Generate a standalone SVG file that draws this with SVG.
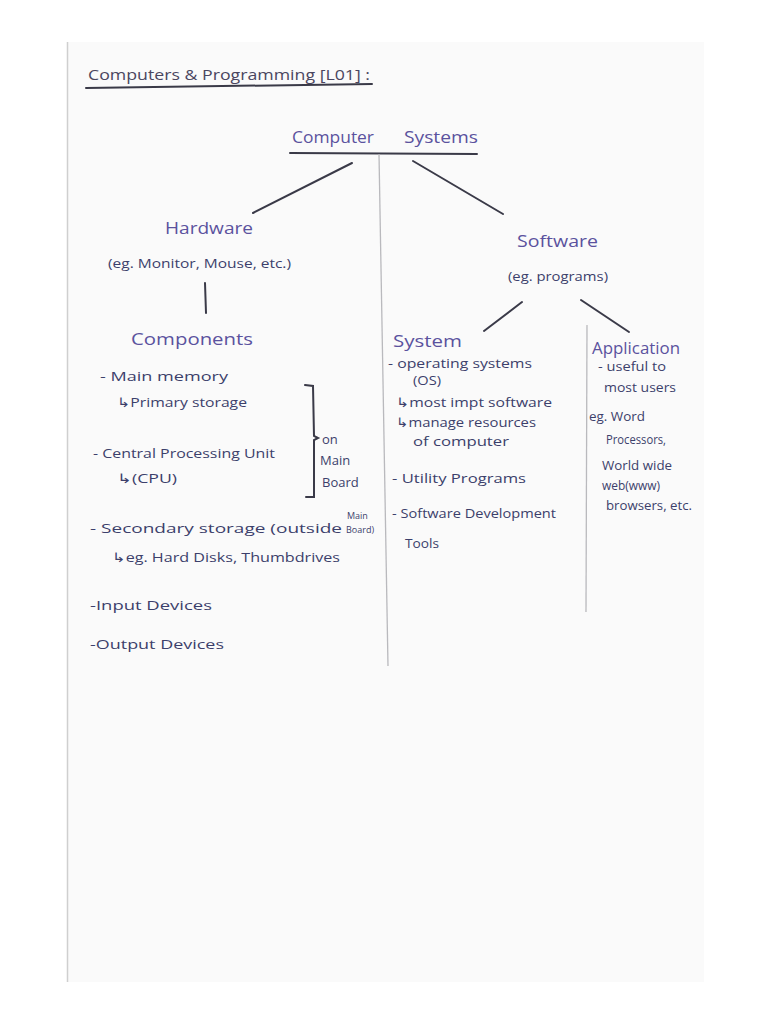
<svg xmlns="http://www.w3.org/2000/svg" width="768" height="1024" viewBox="0 0 768 1024">
<style>
  text { font-family: "Open Sans", "Liberation Sans", sans-serif; }
  .head { fill: #5b529e; font-size: 17px; }
  .body { fill: #3c3f6b; font-size: 13px; }
  .small { fill: #3c3f6b; font-size: 9px; }
  .ink { stroke: #3a3a48; stroke-width: 2; fill: none; stroke-linecap: round; }
  .rule { stroke: #b9b9bd; stroke-width: 1.3; fill: none; }
</style>
<rect x="0" y="0" width="768" height="1024" fill="#ffffff"/>
<rect x="67" y="42" width="637" height="940" fill="#fafafa"/>
<line x1="67.5" y1="42" x2="67.5" y2="982" stroke="#cfcfcf" stroke-width="1.5"/>

<g id="title">
  <text x="88" y="80" fill="#4a4660" font-size="15" textLength="282" lengthAdjust="spacingAndGlyphs">Computers &amp; Programming [L01] :</text>
  <path class="ink" d="M86 88 L372 84" stroke-width="1.8"/>
</g>

<g id="connectors">
  <path class="ink" d="M290 153 L477 154" stroke-width="2.5"/>
  <path class="rule" d="M379 154 L388 666"/>
  <path class="ink" d="M352 163 L253 213"/>
  <path class="ink" d="M413 161 L503 214"/>
  <path class="ink" d="M205 283 L206 313" stroke-width="2.2"/>
  <path class="ink" d="M522 302 L484 331"/>
  <path class="ink" d="M581 300 L629 332"/>
  <path class="rule" d="M587 325 L586 612"/>
</g>

<g id="root">
  <text class="head" x="292" y="143" font-size="18" textLength="82" lengthAdjust="spacingAndGlyphs">Computer</text>
  <text class="head" x="404" y="143" font-size="18" textLength="74" lengthAdjust="spacingAndGlyphs">Systems</text>
</g>

<g id="hardware">
  <text class="head" x="165" y="234" font-size="15" textLength="88" lengthAdjust="spacingAndGlyphs">Hardware</text>
  <text class="body" x="108" y="268" font-size="13.5" textLength="183" lengthAdjust="spacingAndGlyphs">(eg. Monitor, Mouse, etc.)</text>
</g>

<g id="components">
  <text class="head" x="131" y="345" textLength="122" lengthAdjust="spacingAndGlyphs">Components</text>
  <text class="body" x="100" y="381" textLength="128" lengthAdjust="spacingAndGlyphs">- Main memory</text>
  <text class="body" x="117" y="407" textLength="130" lengthAdjust="spacingAndGlyphs">↳Primary storage</text>
  <text class="body" x="93" y="458" textLength="182" lengthAdjust="spacingAndGlyphs">- Central Processing Unit</text>
  <text class="body" x="117" y="483" textLength="60" lengthAdjust="spacingAndGlyphs">↳(CPU)</text>
  <path class="ink" d="M305 385 L313 386 L314 436 L318 438 L314 440 L314 497 L306 497" stroke-width="1.6"/>
  <text class="body" x="322" y="444">on</text>
  <text class="body" x="320" y="465">Main</text>
  <text class="body" x="322" y="487">Board</text>
  <text class="body" x="90" y="533" textLength="252" lengthAdjust="spacingAndGlyphs">- Secondary storage (outside</text>
  <text class="small" x="347" y="519">Main</text>
  <text class="small" x="346" y="533">Board)</text>
  <text class="body" x="112" y="562" textLength="228" lengthAdjust="spacingAndGlyphs">↳eg. Hard Disks, Thumbdrives</text>
  <text class="body" x="90" y="610" textLength="122" lengthAdjust="spacingAndGlyphs">-Input Devices</text>
  <text class="body" x="90" y="649" textLength="134" lengthAdjust="spacingAndGlyphs">-Output Devices</text>
</g>

<g id="software">
  <text class="head" x="517" y="247" font-size="15" textLength="81" lengthAdjust="spacingAndGlyphs">Software</text>
  <text class="body" x="508" y="281" textLength="100" lengthAdjust="spacingAndGlyphs">(eg. programs)</text>
</g>

<g id="system">
  <text class="head" x="393" y="347" font-size="16" textLength="69" lengthAdjust="spacingAndGlyphs">System</text>
  <text class="body" x="388" y="368" font-size="12.5" textLength="144" lengthAdjust="spacingAndGlyphs">- operating systems</text>
  <text class="body" x="413" y="385" font-size="12.5" textLength="28" lengthAdjust="spacingAndGlyphs">(OS)</text>
  <text class="body" x="396" y="407" font-size="12.5" textLength="156" lengthAdjust="spacingAndGlyphs">↳most impt software</text>
  <text class="body" x="396" y="427" font-size="12" textLength="140" lengthAdjust="spacingAndGlyphs">↳manage resources</text>
  <text class="body" x="413" y="446" font-size="12" textLength="96" lengthAdjust="spacingAndGlyphs">of computer</text>
  <text class="body" x="392" y="483" textLength="134" lengthAdjust="spacingAndGlyphs">- Utility Programs</text>
  <text class="body" x="392" y="518" textLength="164" lengthAdjust="spacingAndGlyphs">- Software Development</text>
  <text class="body" x="405" y="548" textLength="34" lengthAdjust="spacingAndGlyphs">Tools</text>
</g>

<g id="application">
  <text class="head" x="592" y="354" font-size="16" textLength="88" lengthAdjust="spacingAndGlyphs">Application</text>
  <text class="body" x="598" y="371" textLength="68" lengthAdjust="spacingAndGlyphs">- useful to</text>
  <text class="body" x="604" y="392" textLength="72" lengthAdjust="spacingAndGlyphs">most users</text>
  <text class="body" x="589" y="421" textLength="56" lengthAdjust="spacingAndGlyphs">eg. Word</text>
  <text class="body" x="606" y="444" textLength="60" lengthAdjust="spacingAndGlyphs">Processors,</text>
  <text class="body" x="602" y="470" textLength="70" lengthAdjust="spacingAndGlyphs">World wide</text>
  <text class="body" x="602" y="490" textLength="58" lengthAdjust="spacingAndGlyphs">web(www)</text>
  <text class="body" x="606" y="510" textLength="86" lengthAdjust="spacingAndGlyphs">browsers, etc.</text>
</g>
</svg>
